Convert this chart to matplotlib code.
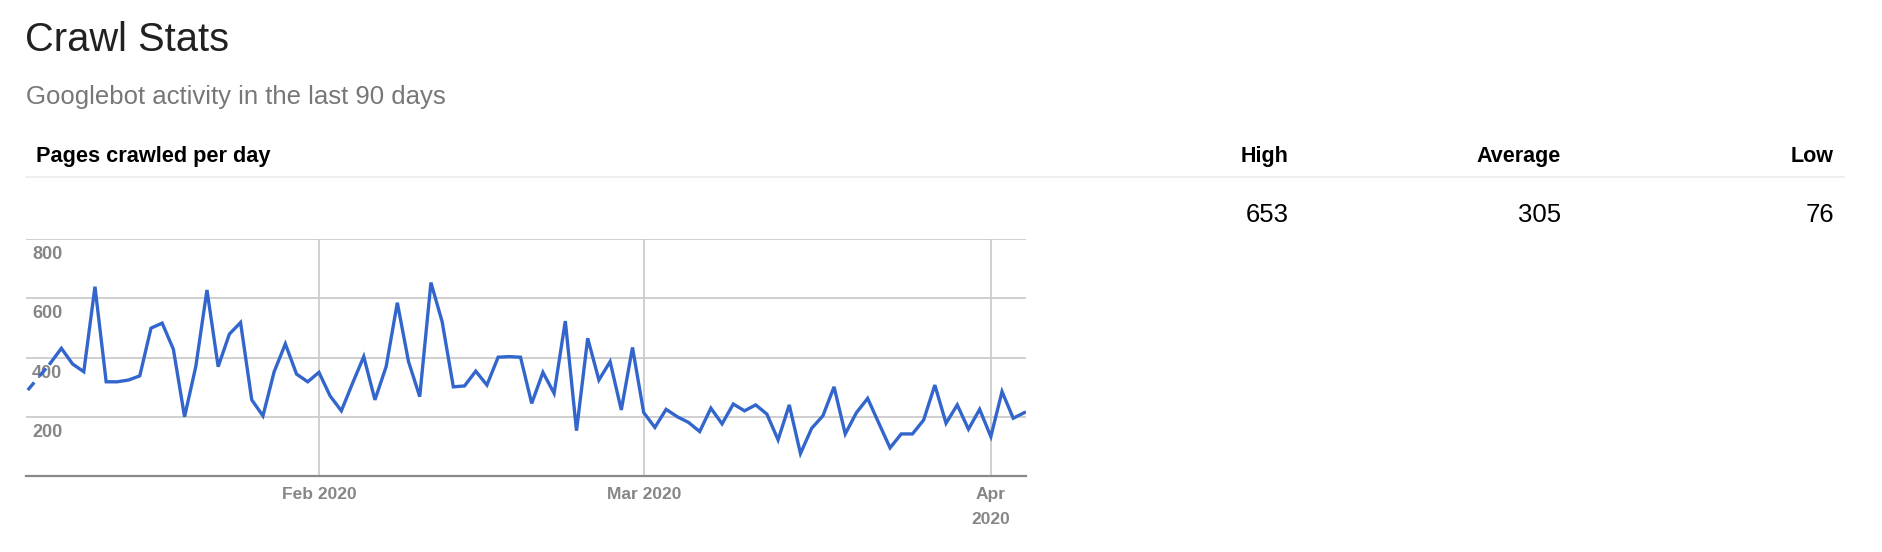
import numpy as np
import matplotlib
matplotlib.use('Agg')
import matplotlib.pyplot as plt
import matplotlib.dates as mdates
import matplotlib.transforms as mtransforms

plt.rcParams['font.family'] = ['Liberation Sans', 'DejaVu Sans']

# Googlebot crawl data, one value per day (Jan 7 missing)
dates = np.arange('2020-01-06', '2020-04-05', dtype='datetime64[D]')
pages = [290, np.nan, 380, 431, 378, 352, 639, 318, 318, 324, 338, 499, 516, 428,
         200, 369, 628, 369, 479, 518, 257, 203, 352, 446, 344, 318,
         350, 270, 220, 313, 403, 257, 369, 585, 386, 268, 653, 521, 301, 304,
         354, 307, 401, 403, 401, 245, 350, 279, 523, 153, 465, 324, 386, 223, 434,
         214, 164, 225, 200, 181, 150, 229, 176, 243, 220, 240, 209, 122, 240, 76,
         161, 203, 301, 142, 214, 262, 178, 95, 142, 142, 189, 307, 178, 240, 158, 225,
         133, 285, 195, 214]

ytick_vals = [200, 400, 600, 800]
xtick_dates = np.array(['2020-02-01', '2020-03-01', '2020-04-01'], dtype='datetime64[D]')
xtick_labels = ['Feb 2020', 'Mar 2020', 'Apr\n2020']

stat_names = ['High', 'Average', 'Low']
stat_values = ['653', '305', '76']

title = 'Crawl Stats'
subtitle = 'Googlebot activity in the last 90 days'
section = 'Pages crawled per day'

W, H = 1882, 552
BLUE = '#3366cc'
GRID = '#cccccc'
TICK = '#868686'

fig = plt.figure(figsize=(W / 100, H / 100), dpi=100)

def fx(x):
    return x / W

def fy(y):
    return 1 - y / H

# header texts
fig.text(fx(25), fy(51), title, fontsize=28.7, color='#212121', va='baseline')
fig.text(fx(26), fy(104), subtitle, fontsize=18.5, color='#777777', va='baseline')
fig.text(fx(36), fy(161.7), section, fontsize=15.7, fontweight='bold', color='black', va='baseline')
fig.add_artist(plt.Line2D([fx(26), fx(1844)], [fy(177), fy(177)], color='#ebebeb', lw=1.2))

stat_x = [1289, 1561, 1834]
for x, name, val in zip(stat_x, stat_names, stat_values):
    fig.text(fx(x), fy(161.7), name, fontsize=15.5, fontweight='bold', ha='right', va='baseline')
    fig.text(fx(x), fy(221.7), val, fontsize=18.5, ha='right', va='baseline')

# chart
ax = fig.add_axes([fx(26), fy(476), 1000 / W, 237 / H])
x = mdates.date2num(dates.astype('datetime64[s]').astype(object))
y = np.array(pages, dtype=float)

ax.plot(x, y, color=BLUE, lw=2.4, solid_joinstyle='miter', zorder=3)
# dashed connector across missing days
for i in np.where(np.isnan(y))[0]:
    ax.plot([x[i - 1], x[i + 1]], [y[i - 1], y[i + 1]], color=BLUE, lw=2.4,
            dashes=(3, 2.5), zorder=3)

ax.set_ylim(0, 800)
ax.set_xlim(x[0] - 0.16, x[-1] + 0.14)

for v in ytick_vals:
    ax.axhline(v, color=GRID, lw=1.3, zorder=1)
xt = mdates.date2num(xtick_dates.astype('datetime64[s]').astype(object))
for d in xt:
    ax.axvline(d, color=GRID, lw=1.3, zorder=1)

ax.set_yticks([])
ax.set_xticks(xt)
ax.set_xticklabels(xtick_labels, fontsize=12.5, fontweight='bold', color=TICK,
                   va='top', linespacing=1.8)
ax.tick_params(axis='x', length=0, pad=8)

trans = mtransforms.blended_transform_factory(ax.transAxes, ax.transData)
trans = mtransforms.offset_copy(trans, fig=fig, x=0, y=-15.5, units='dots')
for v in ytick_vals:
    ax.text(0.006, v, str(v), transform=trans, fontsize=13, fontweight='bold',
            color=TICK, ha='left', va='center', zorder=2)

for s in ['top', 'left', 'right']:
    ax.spines[s].set_visible(False)
ax.spines['bottom'].set_color('#888888')
ax.spines['bottom'].set_linewidth(1.6)
ax.spines['bottom'].set_zorder(4)

fig.savefig('out.png', dpi=100)
